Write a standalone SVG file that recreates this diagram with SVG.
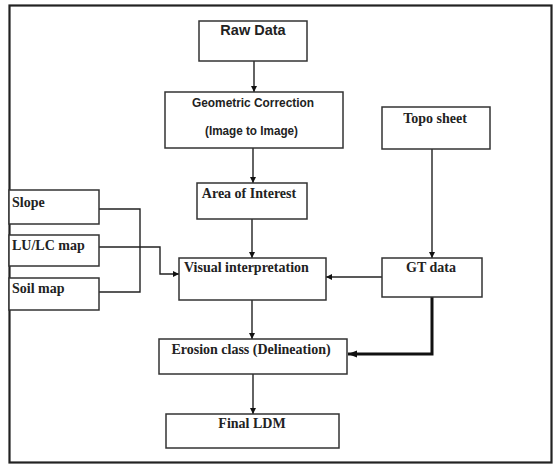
<svg xmlns="http://www.w3.org/2000/svg" width="560" height="473" viewBox="0 0 560 473">
<style>
.box{fill:#fff;stroke:#333;stroke-width:1.5}
.t{font-family:"Liberation Serif","Times New Roman",serif;font-weight:bold;font-size:14px;fill:#222}
.s{font-family:"Liberation Sans",Arial,sans-serif;font-weight:bold;fill:#222}
.c{fill:none;stroke:#222;stroke-width:1.4}
.thick{fill:none;stroke:#111;stroke-width:3}
</style>
<defs>
<marker id="ah" viewBox="0 0 10 10" refX="10" refY="5" markerWidth="6" markerHeight="6" markerUnits="userSpaceOnUse" orient="auto">
<path d="M0,0 L10,5 L0,10 Z" fill="#111"/>
</marker>
<marker id="ahb" viewBox="0 0 10 10" refX="10" refY="5" markerWidth="9" markerHeight="9" markerUnits="userSpaceOnUse" orient="auto">
<path d="M0,1 L10,5 L0,9 Z" fill="#111"/>
</marker>
</defs>
<rect width="560" height="473" fill="#fff"/>
<rect x="9.5" y="5.5" width="542" height="457" fill="none" stroke="#222" stroke-width="2.2"/>

<g id="connectors">
<line class="c" x1="254" y1="61" x2="254" y2="92" marker-end="url(#ah)"/>
<line class="c" x1="253" y1="148" x2="253" y2="183" marker-end="url(#ah)"/>
<line class="c" x1="252" y1="219" x2="252" y2="258" marker-end="url(#ah)"/>
<line class="c" x1="432" y1="149" x2="432" y2="258" marker-end="url(#ah)"/>
<line class="c" x1="382" y1="277" x2="326" y2="277" marker-end="url(#ah)"/>
<polyline class="c" points="99,209 140,209 140,292 99,292"/>
<polyline class="c" points="99,247 160,247 160,274 179,274" marker-end="url(#ah)"/>
<line class="c" x1="252" y1="300" x2="252" y2="339" marker-end="url(#ah)"/>
<polyline class="thick" points="432,297 432,354 348,354" marker-end="url(#ahb)"/>
<line class="c" x1="253" y1="374" x2="253" y2="414" marker-end="url(#ah)"/>
</g>

<g id="raw-data">
<rect class="box" x="199" y="21" width="108" height="40"/>
<text class="s" x="253" y="35" font-size="14.5" text-anchor="middle">Raw Data</text>
</g>
<g id="geometric-correction">
<rect class="box" x="165" y="92" width="178" height="56"/>
<text class="s" x="192" y="107" font-size="12" textLength="122" lengthAdjust="spacingAndGlyphs">Geometric Correction</text>
<text class="s" x="205" y="135" font-size="12" textLength="93" lengthAdjust="spacingAndGlyphs">(Image to Image)</text>
</g>
<g id="topo-sheet">
<rect class="box" x="382" y="107" width="108" height="42"/>
<text class="t" x="435" y="123" text-anchor="middle">Topo sheet</text>
</g>
<g id="area-of-interest">
<rect class="box" x="197" y="183" width="110" height="36"/>
<text class="t" x="249" y="198" text-anchor="middle">Area of Interest</text>
</g>
<g id="slope">
<rect class="box" x="9" y="190" width="90" height="34"/>
<text class="t" x="12" y="207">Slope</text>
</g>
<g id="lulc-map">
<rect class="box" x="9" y="235" width="90" height="31"/>
<text class="t" x="12" y="250">LU/LC map</text>
</g>
<g id="soil-map">
<rect class="box" x="9" y="278" width="90" height="32"/>
<text class="t" x="12" y="293">Soil map</text>
</g>
<g id="visual-interpretation">
<rect class="box" x="179" y="258" width="147" height="42"/>
<text class="t" x="184" y="272">Visual interpretation</text>
</g>
<g id="gt-data">
<rect class="box" x="382" y="258" width="100" height="39"/>
<text class="t" x="431" y="272" text-anchor="middle">GT data</text>
</g>
<g id="erosion-class">
<rect class="box" x="159" y="339" width="188" height="35"/>
<text class="t" x="251" y="354" text-anchor="middle">Erosion class (Delineation)</text>
</g>
<g id="final-ldm">
<rect class="box" x="166" y="414" width="173" height="34"/>
<text class="t" x="252" y="428" text-anchor="middle">Final LDM</text>
</g>
</svg>
